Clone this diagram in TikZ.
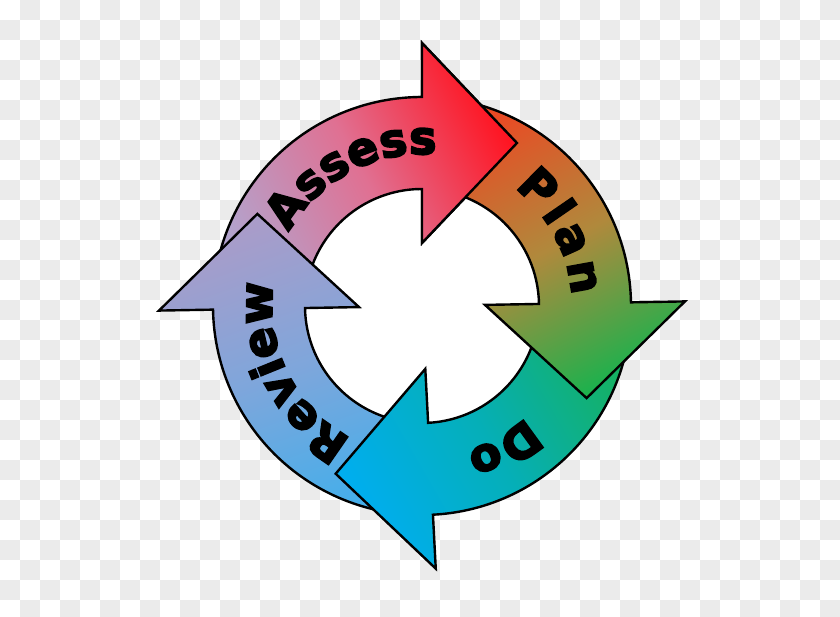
\documentclass[tikz,border=0pt]{standalone}
\usepackage{fontspec}
\setsansfont{DejaVu Sans}
\newfontfamily\heavyfont[BoldFeatures={FakeBold=4}]{DejaVu Sans}
\usetikzlibrary{decorations.text}
\definecolor{checker}{RGB}{235,235,235}
\definecolor{asA}{HTML}{B3A3CD}
\definecolor{asM}{HTML}{E07092}
\definecolor{asB}{HTML}{FF1421}
\definecolor{plA}{HTML}{EA4A24}
\definecolor{plM}{HTML}{B0893C}
\definecolor{plB}{HTML}{1DB14D}
\definecolor{doA}{HTML}{15B064}
\definecolor{doM}{HTML}{05AFB8}
\definecolor{doB}{HTML}{00AEEF}
\definecolor{rvA}{HTML}{A99CC9}
\definecolor{rvM}{HTML}{7FA6DB}
\definecolor{rvB}{HTML}{45AEEA}
\newcommand\wordfont{\fontsize{46}{46}\selectfont\heavyfont\bfseries}
% #1 head angle, #2 tail angle
\newcommand\arrowpath[2]{({#2}:209) arc[start angle={#2}, end angle={#1}, radius=209]
  -- ({#1}:263) -- ({#1-30.23}:188.66) -- ({#1}:63) -- ({#1}:117)
  arc[start angle={#1}, end angle={#2}, radius=117] -- cycle}
\tikzset{
  cyclearrow/.style={draw=black, line width=2.4pt, line join=miter},
  assessfill/.style={top color=asB, bottom color=asA, middle color=asM, shading angle=-62},
  planfill/.style={top color=plA, bottom color=plB, middle color=plM, shading angle=28},
  dofill/.style={top color=doA, bottom color=doB, middle color=doM, shading angle=-60},
  reviewfill/.style={top color=rvA, bottom color=rvB, middle color=rvM, shading angle=20},
}
\begin{document}
\begin{tikzpicture}[x=1pt,y=1pt]
\useasboundingbox (0,0) rectangle (840,617);
\begin{scope}
  \clip (0,0) rectangle (840,617);
  \fill[white] (0,0) rectangle (840,617);
  \foreach \i in {0,...,41}{\foreach \j in {0,...,30}{
    \ifodd\numexpr\i+\j\relax
      \fill[checker] ({20*\i},{597-20*\j}) rectangle ++(20,20);
    \fi}}
\end{scope}
\begin{scope}[shift={(422,311)}]
  \fill[white] (0,0) circle[radius=150];
  % arrows
  \path[cyclearrow, assessfill] \arrowpath{90}{181};
  \path[cyclearrow, reviewfill] \arrowpath{181}{273};
  \path[cyclearrow, dofill] \arrowpath{-87}{1};
  \path[cyclearrow, planfill] \arrowpath{1}{90};
  % redraw the Assess head over the Plan tail
  \begin{scope}
    \clip (-4,55) -- (-4,271) -- (104,163) -- cycle;
    \path[cyclearrow, assessfill] \arrowpath{90}{181};
  \end{scope}
  % labels
  \path[decorate, decoration={text along path, text color=black,
      text={|\wordfont|Assess}, text align={fit to path}}]
    (151:152) arc[start angle=151, end angle=86, radius=152];
  \path[decorate, decoration={text along path, text color=black,
      text={|\wordfont|Plan}, text align={fit to path}}]
    (52:150) arc[start angle=52, end angle=4, radius=150];
  \path[decorate, decoration={text along path, text color=black,
      text={|\wordfont|Do}, text align=center}]
    (-20:152) arc[start angle=-20, end angle=-100, radius=152];
  \path[decorate, decoration={text along path, text color=black,
      text={|\wordfont|Review}, text align={fit to path}}]
    (242:150) arc[start angle=242, end angle=174, radius=150];
\end{scope}
\end{tikzpicture}
\end{document}
